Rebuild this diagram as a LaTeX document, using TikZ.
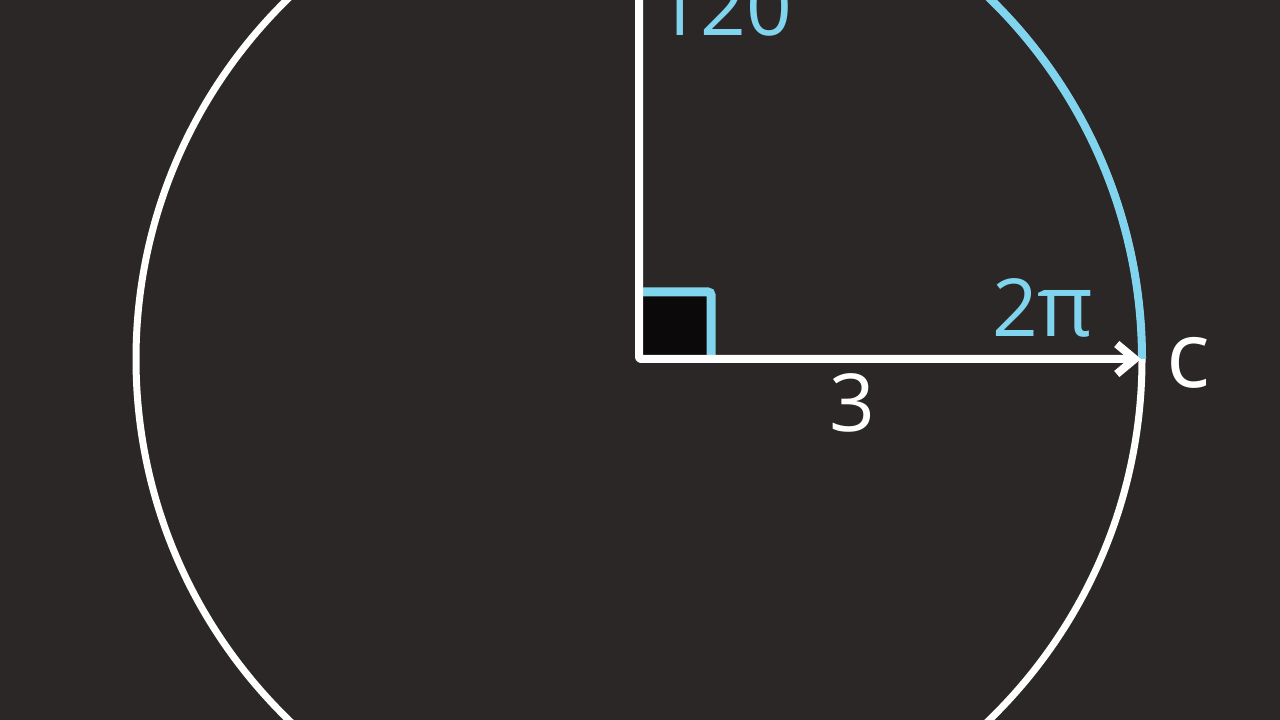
\documentclass[tikz,border=0pt]{standalone}
\usepackage{fontspec}
\setmainfont{Open Sans}
\usetikzlibrary{arrows.meta}
\definecolor{bg}{RGB}{43,39,39}
\definecolor{skyb}{RGB}{128,212,238}
\definecolor{sqfill}{RGB}{11,9,9}
\tikzset{
  lbl/.style={inner sep=0pt, font=\fontsize{80}{96}\selectfont},
  whiteline/.style={draw=white, line width=7pt},
  blueline/.style={draw=skyb, line width=9pt}
}
\begin{document}
\begin{tikzpicture}[x=1pt,y=1pt]
\useasboundingbox (0,0) rectangle (1280,720);
\fill[bg] (0,0) rectangle (1280,720);
\clip (0,0) rectangle (1280,720);
\coordinate (O) at (639,361);
\coordinate (top) at (639,740);
\coordinate (tip) at (1141,361);
\coordinate (sqc) at (711,428);
% circle
\draw[whiteline] (O) circle[radius=503pt];
% blue arc
\draw[blueline, line width=8pt] (O) ++(0:503pt) arc[start angle=0, end angle=70, radius=503pt];
% right-angle mark
\fill[sqfill] (O) rectangle (sqc);
\draw[blueline, rounded corners=3pt, line cap=round] (643,428) -- (sqc) -- (711,365);
% axes
\draw[whiteline, line width=8pt, line join=round, rounded corners=2pt, -{Straight Barb[length=18pt,width=30pt]}] (top) -- (O) -- (tip);
% labels
\node[lbl, text=skyb, anchor=base west] (l120) at (655,684) {120};
\node[lbl, text=white, anchor=base] (l3) at (852,288) {3};
\node[lbl, text=skyb, anchor=base west] (l2pi) at (992,383) {2\fontsize{86}{96}\selectfont π};
\node[lbl, text=white, anchor=base west, font=\fontsize{92}{100}\selectfont] (lc) at (1166,332) {c};
\end{tikzpicture}
\end{document}
